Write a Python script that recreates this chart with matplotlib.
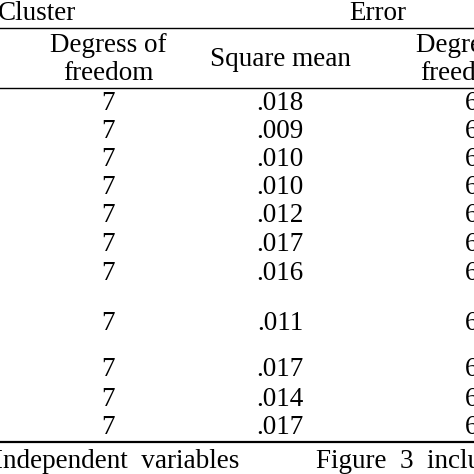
import matplotlib.pyplot as plt

cluster_df = ["7"] * 11
square_mean = [".018", ".009", ".010", ".010", ".012", ".017", ".016", ".011", ".017", ".014", ".017"]
error_df = ["6"] * 11
row_y = [103, 131, 159, 187, 215, 244, 273, 324, 370, 400, 428]

plt.rcParams['font.family'] = ['Liberation Serif', 'DejaVu Serif']
fig = plt.figure(figsize=(4.74, 4.74), dpi=100)
ax = fig.add_axes([0, 0, 1, 1])
ax.set_xlim(0, 474)
ax.set_ylim(474, 0)
ax.axis('off')

fs = 19.5
ax.text(-2, 13, "Cluster", fontsize=fs, ha='left', va='center')
ax.text(378, 13, "Error", fontsize=fs, ha='center', va='center')
ax.text(108, 45, "Degress of", fontsize=fs, ha='center', va='center')
ax.text(108, 73, "freedom", fontsize=fs, ha='center', va='center')
ax.text(280, 59, "Square mean", fontsize=fs, ha='center', va='center')
ax.text(416, 45, "Degress of", fontsize=fs, ha='left', va='center')
ax.text(420, 73, "freedom", fontsize=fs, ha='left', va='center')

for y in (28, 88, 442):
    ax.plot([0, 474], [y, y], color='black', lw=1.6 if y == 442 else 1.0)

for y, a, b, c in zip(row_y, cluster_df, square_mean, error_df):
    ax.text(108, y, a, fontsize=fs, ha='center', va='center')
    ax.text(280, y, b, fontsize=fs, ha='center', va='center')
    ax.text(465, y, c, fontsize=fs, ha='left', va='center')

ax.text(-6, 462, "Independent  variables", fontsize=fs, ha='left', va='center')
ax.text(316, 462, "Figure  3  includes", fontsize=fs, ha='left', va='center')

fig.savefig("out.png", dpi=100)
